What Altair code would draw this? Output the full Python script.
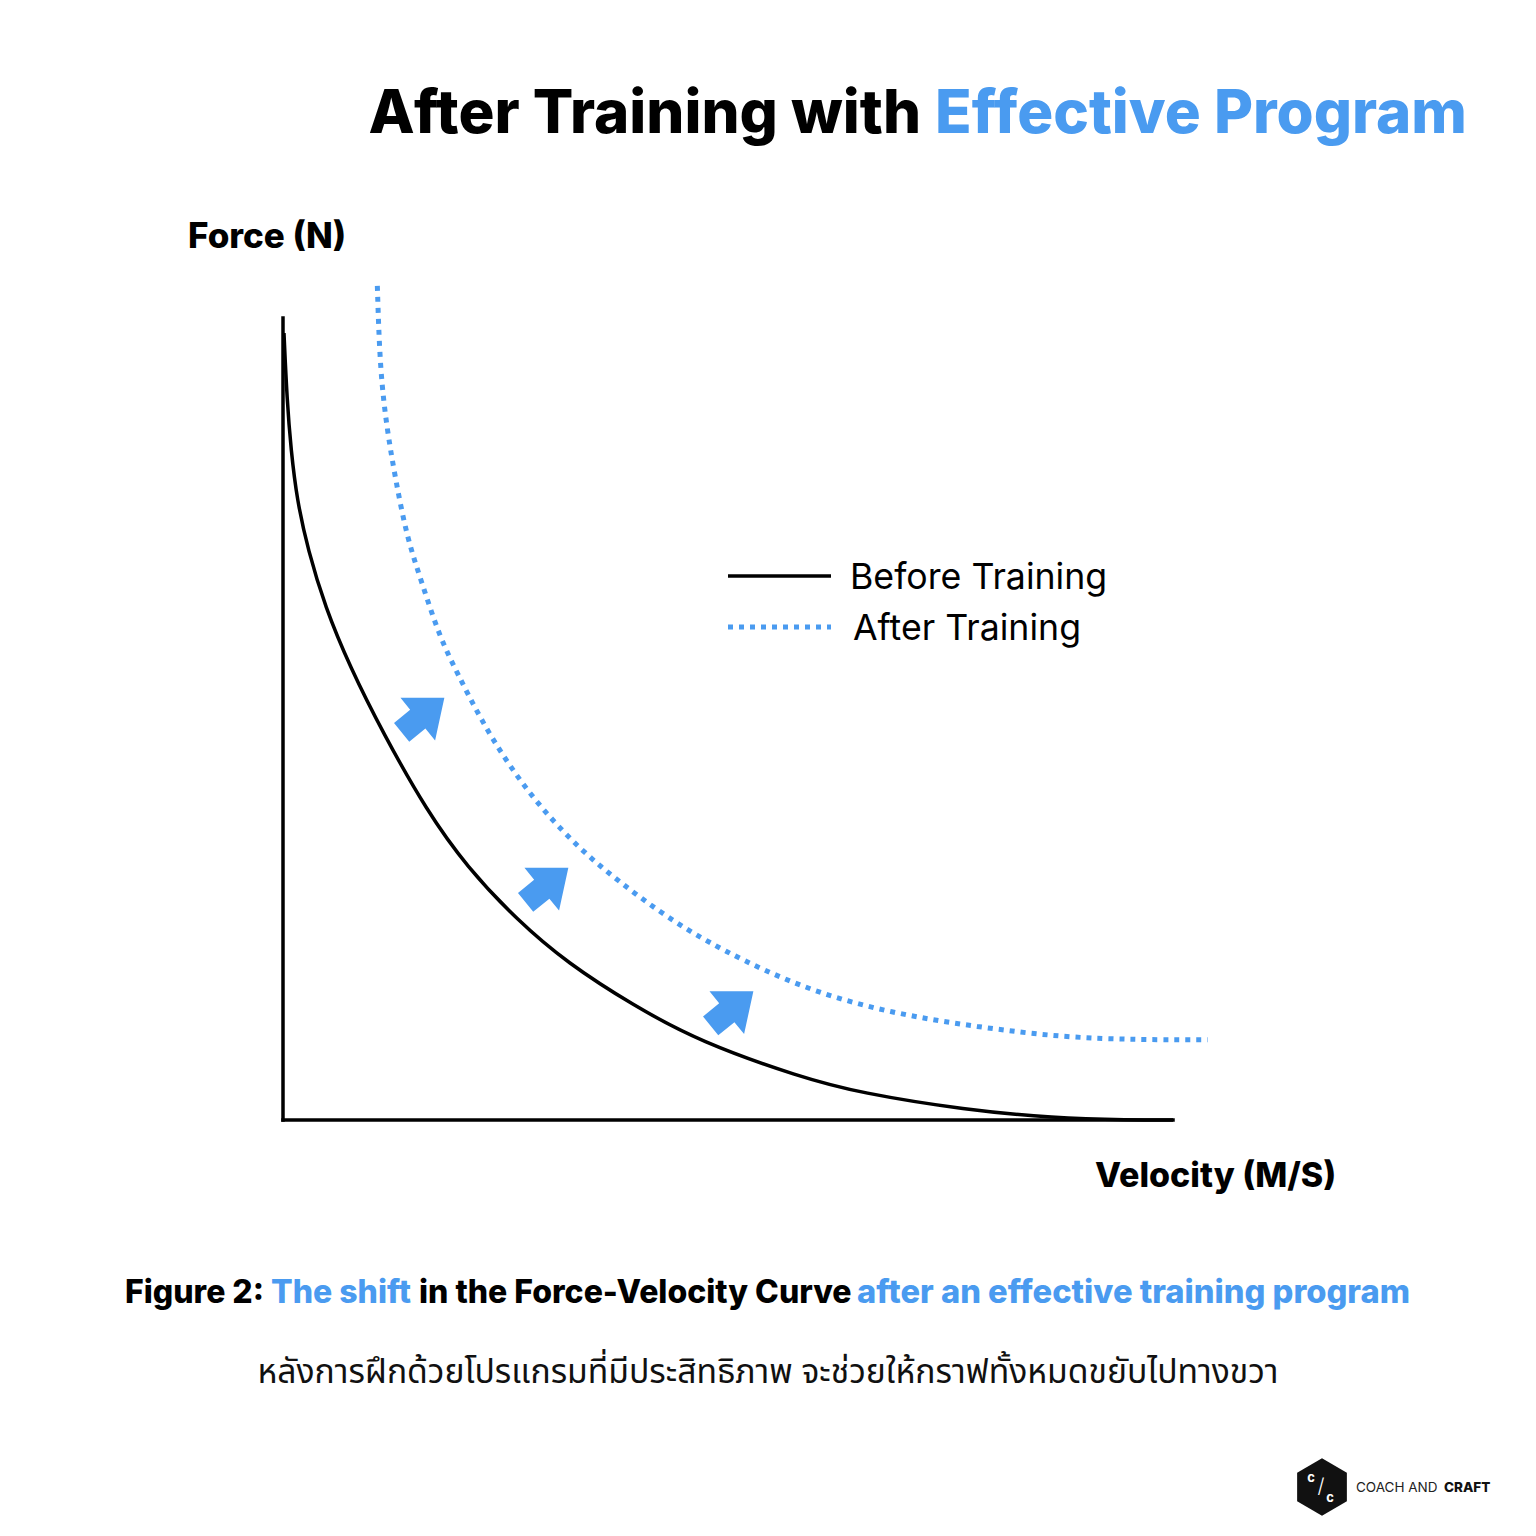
import altair as alt
import pandas as pd

# ---------------- data ----------------
# axes run from 0 to 10 on both velocity and force
before_v = [0.011, 0.045, 0.090, 0.157, 0.281, 0.472, 0.753, 1.124, 1.618, 2.067, 2.629, 3.191,
            3.933, 4.685, 5.809, 6.483, 7.674, 8.652, 9.517, 10.0]
before_f = [9.813, 8.978, 8.354, 7.731, 7.107, 6.400, 5.648, 4.825, 3.850, 3.155, 2.494, 1.960,
            1.430, 0.975, 0.536, 0.337, 0.125, 0.025, 0.0, 0.0]

after_v = [1.06, 1.09, 1.17, 1.26, 1.39, 1.56, 1.76, 1.96, 2.21, 2.52, 2.89, 3.34, 3.79, 4.31,
           4.92, 5.88, 6.84, 7.80, 8.76, 9.63, 10.39]
after_f = [10.40, 9.35, 8.60, 8.02, 7.27, 6.70, 6.02, 5.57, 5.02, 4.45, 3.90, 3.37, 2.96, 2.53,
           2.12, 1.62, 1.33, 1.16, 1.03, 1.00, 1.00]

arrow_v = [1.573, 2.966, 5.045]
arrow_f = [5.050, 2.930, 1.390]

axis_max = 10

title_black = "After Training with"
title_blue = "Effective Program"
y_label = "Force (N)"
x_label = "Velocity (M/S)"
legend_labels = ["Before Training", "After Training"]
caption_parts = ["Figure 2:", "The shift", "in the Force-Velocity Curve", "after an effective training program"]
caption_is_blue = [False, True, False, True]
thai_line = "หลังการฝึกด้วยโปรแกรมที่มีประสิทธิภาพ จะช่วยให้กราฟทั้งหมดขยับไปทางขวา"
logo_words = ["COACH AND", "CRAFT"]
logo_letters = ["c", "/", "c"]

# ---------------- styling ----------------
BLUE = "#4A9BF0"
BLACK = "#000000"
FONT = "Inter"
W, H = 1536, 1536
# pixel mapping of the axes: velocity 0..10 -> x 283..1173, force 0..10 -> y 1120..318
x_scale = alt.Scale(domain=[-283 / 89, (W - 283) / 89], nice=False, zero=False)
y_scale = alt.Scale(domain=[(1120 - H) / 80.2, 1120 / 80.2], nice=False, zero=False)

before_df = pd.DataFrame({"v": before_v, "f": before_f, "series": legend_labels[0]})
after_df = pd.DataFrame({"v": after_v, "f": after_f, "series": legend_labels[1]})
arrow_df = pd.DataFrame({"v": arrow_v, "f": arrow_f})
axes_df = pd.DataFrame({"v": [0, 0], "f": [0, 0], "v2": [0, axis_max], "f2": [axis_max, 0]})


def X(f):
    return alt.X(f, type="quantitative", scale=x_scale, axis=None)


def Y(f):
    return alt.Y(f, type="quantitative", scale=y_scale, axis=None)


axes = alt.Chart(axes_df).mark_rule(color=BLACK, strokeWidth=3.5, strokeCap="square").encode(
    x=X("v"), y=Y("f"), x2="v2:Q", y2="f2:Q"
)

before_line = alt.Chart(before_df).mark_line(
    color=BLACK, strokeWidth=3.5, interpolate="basis", clip=False
).encode(x=X("v"), y=Y("f"))

after_line = alt.Chart(after_df).mark_line(
    color=BLUE, strokeWidth=5, strokeDash=[5, 6], interpolate="basis", clip=False
).encode(x=X("v"), y=Y("f"))

arrow_path = "M 0 -1 L 1.0 0.244 L 0.44 0.244 L 0.44 1 L -0.44 1 L -0.44 0.244 L -1.0 0.244 Z"
arrows = alt.Chart(arrow_df).mark_point(
    shape=arrow_path, size=3025, angle=51, filled=True, fill=BLUE, stroke=None, opacity=1
).encode(x=X("v"), y=Y("f"))


def text_layer(txt, x, y, size, color=BLACK, weight="normal", align="left", font=FONT):
    return alt.Chart(pd.DataFrame({"t": [txt]})).mark_text(
        font=font, fontSize=size, fontWeight=weight, color=color, align=align, baseline="alphabetic"
    ).encode(x=alt.value(x), y=alt.value(y), text="t:N")


layers = [axes, before_line, after_line, arrows]

# title
layers.append(text_layer(title_black, 921, 133, 60, BLACK, 800, "right"))
layers.append(text_layer(title_blue, 1467, 133, 60, BLUE, 800, "right"))

# axis labels
layers.append(text_layer(y_label, 188, 248, 35, BLACK, 800))
layers.append(text_layer(x_label, 1095, 1187, 34, BLACK, 800))

# legend
legend_rows = pd.DataFrame({"t": legend_labels})
layers.append(
    alt.Chart(legend_rows.iloc[[0]]).mark_rule(color=BLACK, strokeWidth=3.5).encode(
        x=alt.value(728), x2=alt.value(831), y=alt.value(576)
    )
)
layers.append(
    alt.Chart(legend_rows.iloc[[1]]).mark_rule(color=BLUE, strokeWidth=5, strokeDash=[5, 6]).encode(
        x=alt.value(728), x2=alt.value(831), y=alt.value(627)
    )
)
layers.append(text_layer(legend_labels[0], 850, 589, 35.7, BLACK, 400))
layers.append(text_layer(legend_labels[1], 853, 640, 35.7, BLACK, 400))

# caption
cap_x = [125, 271, 419, 857]
cap_size = [32, 32, 32, 32.7]
for part, blue, cx, cs in zip(caption_parts, caption_is_blue, cap_x, cap_size):
    layers.append(text_layer(part, cx, 1303, cs, BLUE if blue else BLACK, 800))

layers.append(
    text_layer(thai_line, 768, 1383, 33.7, "#111111", 400, "center", "Noto Sans Thai, Noto Sans, sans-serif")
)

# logo
hex_path = "M 0 -1 L 0.866 -0.5 L 0.866 0.5 L 0 1 L -0.866 0.5 L -0.866 -0.5 Z"
layers.append(
    alt.Chart(pd.DataFrame({"t": ["logo"]})).mark_point(
        shape=hex_path, size=3300, filled=True, fill="#111111", stroke=None, opacity=1
    ).encode(x=alt.value(1322), y=alt.value(1487))
)
layers.append(text_layer(logo_letters[0], 1311, 1482, 13, "white", 700, "center"))
layers.append(text_layer(logo_letters[1], 1321, 1493, 20, "white", 300, "center"))
layers.append(text_layer(logo_letters[2], 1330, 1502, 13, "white", 700, "center"))
layers.append(text_layer(logo_words[0], 1356, 1492, 13.5, "#222222", 400))
layers.append(text_layer(logo_words[1], 1444, 1492, 13.5, "#111111", 800))

chart = alt.layer(*layers).properties(
    width=W, height=H, padding=0, autosize=alt.AutoSizeParams(type="none"), background="white"
).configure_view(stroke=None)

chart.save("out.html", embed_options={"renderer": "svg", "actions": False})
